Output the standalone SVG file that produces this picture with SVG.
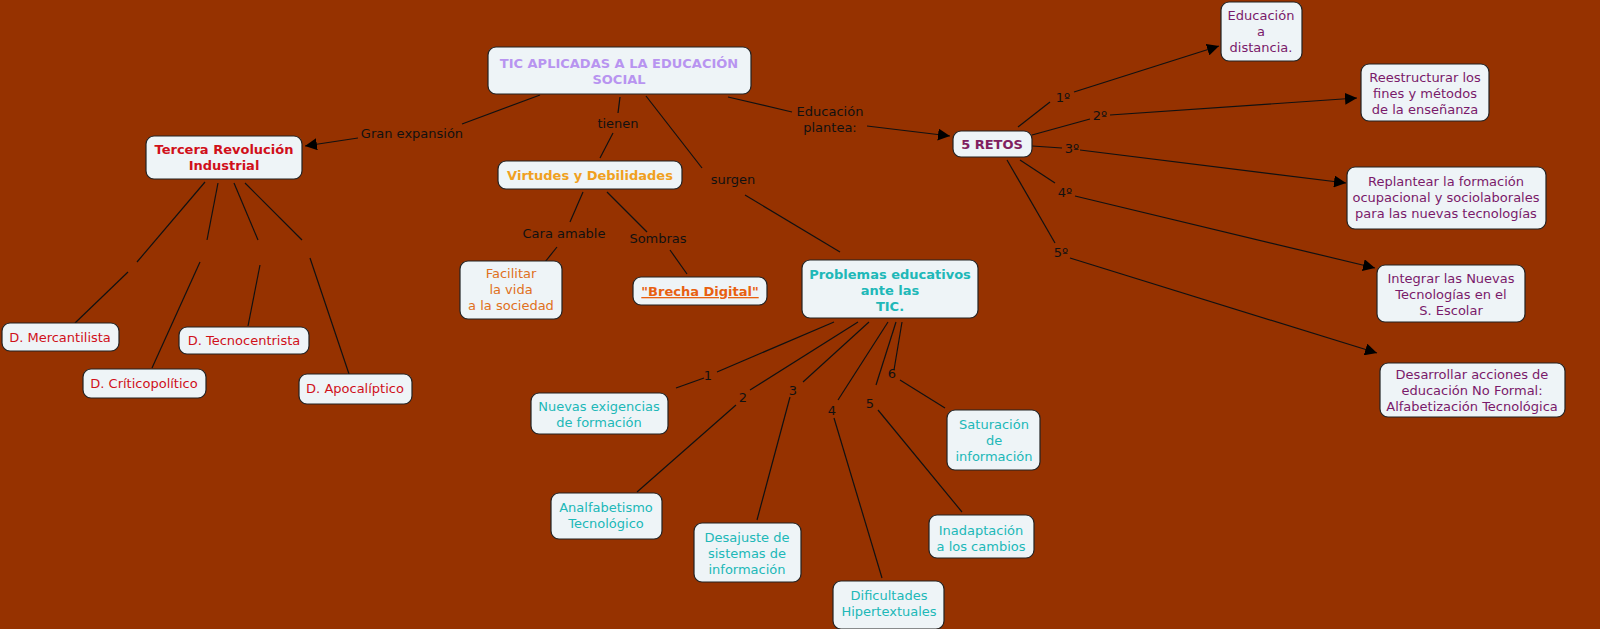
<svg xmlns="http://www.w3.org/2000/svg" width="1600" height="629" viewBox="0 0 1600 629">
<style>
text{font-family:"DejaVu Sans",Verdana,sans-serif;font-size:13px;text-anchor:middle}
.n{fill:#eef4f7;stroke:#222;stroke-width:1.2}
.c line{stroke:#111;stroke-width:1.2}
.l{fill:#111}
.b{font-weight:bold}
.red{fill:#d0101a}.or{fill:#f0a020}.or2{fill:#e07020}.tl{fill:#20b8b8}.pu{fill:#7a1a6a}
</style>
<defs><marker id="a" viewBox="0 0 10 10" refX="10" refY="5" markerWidth="12" markerHeight="12" markerUnits="userSpaceOnUse" orient="auto"><path d="M0,0L10,5L0,10z" fill="#000"/></marker></defs>
<rect width="1600" height="629" fill="#963200"/>
<g class="c">
<line x1="540" y1="95" x2="462" y2="124"/><line x1="358" y1="138" x2="305" y2="146" marker-end="url(#a)"/>
<line x1="620" y1="97" x2="618" y2="113"/><line x1="613" y1="133" x2="600" y2="158"/>
<line x1="583" y1="192" x2="570" y2="222"/><line x1="557" y1="247" x2="545" y2="262"/>
<line x1="607" y1="192" x2="647" y2="232"/><line x1="670" y1="250" x2="687" y2="274"/>
<line x1="646" y1="96" x2="702" y2="168"/><line x1="745" y1="195" x2="840" y2="252"/>
<line x1="728" y1="97" x2="792" y2="112"/><line x1="867" y1="126" x2="950" y2="136" marker-end="url(#a)"/>
<line x1="205" y1="182" x2="137" y2="262"/><line x1="128" y1="272" x2="75" y2="323"/>
<line x1="218" y1="183" x2="207" y2="240"/><line x1="200" y1="262" x2="152" y2="368"/>
<line x1="234" y1="183" x2="258" y2="240"/><line x1="260" y1="265" x2="248" y2="326"/>
<line x1="245" y1="183" x2="302" y2="240"/><line x1="310" y1="258" x2="349" y2="374"/>
<line x1="1018" y1="127" x2="1050" y2="102"/><line x1="1074" y1="92" x2="1219" y2="46" marker-end="url(#a)"/>
<line x1="1032" y1="135" x2="1090" y2="119"/><line x1="1110" y1="115" x2="1357" y2="98" marker-end="url(#a)"/>
<line x1="1032" y1="146" x2="1062" y2="148"/><line x1="1080" y1="150" x2="1346" y2="183" marker-end="url(#a)"/>
<line x1="1020" y1="160" x2="1055" y2="183"/><line x1="1075" y1="196" x2="1375" y2="268" marker-end="url(#a)"/>
<line x1="1007" y1="160" x2="1055" y2="243"/><line x1="1070" y1="258" x2="1377" y2="353" marker-end="url(#a)"/>
<line x1="834" y1="322" x2="717" y2="372"/><line x1="704" y1="378" x2="676" y2="388"/>
<line x1="858" y1="322" x2="750" y2="390"/><line x1="736" y1="405" x2="637" y2="492"/>
<line x1="869" y1="322" x2="803" y2="382"/><line x1="790" y1="397" x2="757" y2="520"/>
<line x1="888" y1="322" x2="838" y2="400"/><line x1="834" y1="418" x2="882" y2="578"/>
<line x1="896" y1="322" x2="876" y2="385"/><line x1="878" y1="410" x2="962" y2="512"/>
<line x1="902" y1="322" x2="894" y2="370"/><line x1="900" y1="380" x2="945" y2="408"/>
<text class="l" x="412" y="138">Gran expansión</text>
<text class="l" x="618" y="128">tienen</text>
<text class="l" x="564" y="238">Cara amable</text>
<text class="l" x="658" y="243">Sombras</text>
<text class="l" x="733" y="184">surgen</text>
<text class="l" x="830" y="116">Educación</text><text class="l" x="830" y="132">plantea:</text>
<text class="l" x="1063" y="102">1º</text><text class="l" x="1100" y="120">2º</text>
<text class="l" x="1072" y="153">3º</text><text class="l" x="1065" y="197">4º</text>
<text class="l" x="1061" y="257">5º</text>
<text class="l" x="708" y="380">1</text><text class="l" x="743" y="402">2</text>
<text class="l" x="793" y="395">3</text><text class="l" x="832" y="415">4</text>
<text class="l" x="870" y="408">5</text><text class="l" x="892" y="378">6</text>
</g>
<g id="tic"><rect class="n" x="488" y="47" width="263" height="47" rx="8"/><text class="b" fill="#b894f0" x="619" y="68">TIC APLICADAS A LA EDUCACIÓN</text><text class="b" fill="#b894f0" x="619" y="84">SOCIAL</text></g>
<g id="tercera"><rect class="n" x="146" y="136" width="156" height="43" rx="8"/><text class="b red" x="224" y="154">Tercera Revolución</text><text class="b red" x="224" y="170">Industrial</text></g>
<g id="virtudes"><rect class="n" x="498" y="161" width="184" height="28" rx="8"/><text class="b or" x="590" y="180">Virtudes y Debilidades</text></g>
<g id="facilitar"><rect class="n" x="460" y="261" width="102" height="58" rx="8"/><text class="or2" x="511" y="278">Facilitar</text><text class="or2" x="511" y="294">la vida</text><text class="or2" x="511" y="310">a la sociedad</text></g>
<g id="brecha"><rect class="n" x="633" y="277" width="134" height="28" rx="8"/><text class="b" fill="#e86010" text-decoration="underline" x="700" y="296">"Brecha Digital"</text></g>
<g id="problemas"><rect class="n" x="802" y="260" width="176" height="58" rx="8"/><text class="b tl" x="890" y="279">Problemas educativos</text><text class="b tl" x="890" y="295">ante las</text><text class="b tl" x="890" y="311">TIC.</text></g>
<g id="retos"><rect class="n" x="953" y="131" width="79" height="26" rx="8"/><text class="b" fill="#802060" x="992" y="149">5 RETOS</text></g>
<g id="r1"><rect class="n" x="1221" y="2" width="81" height="59" rx="8"/><text class="pu" x="1261" y="20">Educación</text><text class="pu" x="1261" y="36">a</text><text class="pu" x="1261" y="52">distancia.</text></g>
<g id="r2"><rect class="n" x="1361" y="64" width="128" height="57" rx="8"/><text class="pu" x="1425" y="82">Reestructurar los</text><text class="pu" x="1425" y="98">fines y métodos</text><text class="pu" x="1425" y="114">de la enseñanza</text></g>
<g id="r3"><rect class="n" x="1347" y="167" width="199" height="62" rx="8"/><text class="pu" x="1446" y="186">Replantear la formación</text><text class="pu" x="1446" y="202">ocupacional y sociolaborales</text><text class="pu" x="1446" y="218">para las nuevas tecnologías</text></g>
<g id="r4"><rect class="n" x="1377" y="265" width="148" height="57" rx="8"/><text class="pu" x="1451" y="283">Integrar las Nuevas</text><text class="pu" x="1451" y="299">Tecnologías en el</text><text class="pu" x="1451" y="315">S. Escolar</text></g>
<g id="r5"><rect class="n" x="1380" y="363" width="185" height="54" rx="8"/><text class="pu" x="1472" y="379">Desarrollar acciones de</text><text class="pu" x="1472" y="395">educación No Formal:</text><text class="pu" x="1472" y="411">Alfabetización Tecnológica</text></g>
<g id="d1"><rect class="n" x="2" y="323" width="117" height="28" rx="8"/><text class="red" x="60" y="342">D. Mercantilista</text></g>
<g id="d2"><rect class="n" x="83" y="369" width="123" height="29" rx="8"/><text class="red" x="144" y="388">D. Críticopolítico</text></g>
<g id="d3"><rect class="n" x="179" y="327" width="130" height="27" rx="8"/><text class="red" x="244" y="345">D. Tecnocentrista</text></g>
<g id="d4"><rect class="n" x="299" y="374" width="113" height="30" rx="8"/><text class="red" x="355" y="393">D. Apocalíptico</text></g>
<g id="p1"><rect class="n" x="531" y="393" width="137" height="41" rx="8"/><text class="tl" x="599" y="411">Nuevas exigencias</text><text class="tl" x="599" y="427">de formación</text></g>
<g id="p2"><rect class="n" x="551" y="493" width="111" height="46" rx="8"/><text class="tl" x="606" y="512">Analfabetismo</text><text class="tl" x="606" y="528">Tecnológico</text></g>
<g id="p3"><rect class="n" x="694" y="523" width="107" height="59" rx="8"/><text class="tl" x="747" y="542">Desajuste de</text><text class="tl" x="747" y="558">sistemas de</text><text class="tl" x="747" y="574">información</text></g>
<g id="p4"><rect class="n" x="833" y="581" width="111" height="48" rx="8"/><text class="tl" x="889" y="600">Dificultades</text><text class="tl" x="889" y="616">Hipertextuales</text></g>
<g id="p5"><rect class="n" x="929" y="515" width="105" height="43" rx="8"/><text class="tl" x="981" y="535">Inadaptación</text><text class="tl" x="981" y="551">a los cambios</text></g>
<g id="p6"><rect class="n" x="947" y="410" width="93" height="60" rx="8"/><text class="tl" x="994" y="429">Saturación</text><text class="tl" x="994" y="445">de</text><text class="tl" x="994" y="461">información</text></g>
</svg>
